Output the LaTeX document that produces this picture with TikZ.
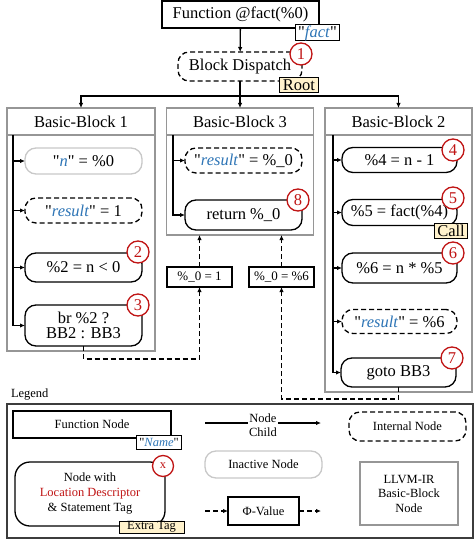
\documentclass[tikz,border=0pt]{standalone}
\usepackage{fontspec}
\setmainfont{Liberation Serif}[Ligatures=TeXOff]
\usetikzlibrary{arrows.meta}
\definecolor{tagfill}{RGB}{255,242,204}
\definecolor{namecol}{RGB}{46,117,182}
\definecolor{circred}{RGB}{192,20,20}
\definecolor{bbgray}{RGB}{150,150,150}
\definecolor{inactgray}{RGB}{200,200,200}
\definecolor{leggray}{RGB}{60,60,60}
\newcommand{\nm}[1]{"\textcolor{namecol}{\textit{#1}}"}
\begin{document}
\begin{tikzpicture}[x=1pt,y=-1pt,
  every node/.style={font=\fontsize{16.5}{16}\selectfont, inner sep=0pt, outer sep=0pt},
  mainfont/.style={font=\fontsize{16.5}{16}\selectfont},
  legfont/.style={font=\fontsize{12.5}{15}\selectfont},
  phifont/.style={font=\fontsize{13}{15}\selectfont},
  fnbox/.style={draw, line width=1.3pt, fill=white},
  stmt/.style={draw, line width=1.3pt, rounded corners=11pt, fill=white, minimum width=117pt, align=center},
  internal/.style={stmt, dashed, dash pattern=on 5pt off 3pt},
  inactive/.style={stmt, draw=inactgray},
  bbbox/.style={draw=bbgray, line width=1.2pt},
  bbline/.style={draw=bbgray, line width=1.2pt},
  circ/.style={circle, draw=circred, line width=1.3pt, fill=white, text=circred, minimum size=22pt},
  tagw/.style={draw, line width=1pt, fill=white, inner xsep=3pt, minimum height=16pt},
  tagy/.style={draw, line width=1pt, fill=tagfill, inner xsep=3pt, minimum height=15pt},
  phibox/.style={draw, line width=1.3pt, fill=white, phifont, minimum width=65pt, minimum height=20pt},
  ln/.style={line width=1.3pt},
  arr/.style={line width=1.3pt, -{Latex[length=5pt,width=4.5pt]}},
  darr/.style={line width=1.3pt, dash pattern=on 5pt off 3pt, -{Latex[length=5pt,width=4.5pt]}},
]
\useasboundingbox (0,0) rectangle (474,540);

% top
\node[fnbox, minimum width=157pt, minimum height=27pt] (fn) at (240.5,14.5) {Function @fact(\%0)};
\node[tagw] (facttag) at (317.5,33) {\nm{fact}};
\node[internal, minimum width=124pt, minimum height=29pt] (bd) at (240,66.5) {Block Dispatch};
\node[circ] (c1) at (301,54) {1};
\node[tagy] (root) at (299,85.5) {Root};

% basic blocks
\node[bbbox, minimum width=148pt, minimum height=243pt] (bb1) at (81,229.5) {};
\node[bbbox, minimum width=147pt, minimum height=127pt] (bb3) at (240,171.5) {};
\node[bbbox, minimum width=147pt, minimum height=284pt] (bb2) at (398.5,250) {};
\draw[bbline] (bb1.north west |- 0,135) -- (bb1.north east |- 0,135);
\draw[bbline] (bb3.north west |- 0,135) -- (bb3.north east |- 0,135);
\draw[bbline] (bb2.north west |- 0,135) -- (bb2.north east |- 0,135);
\node (t1) at (81,122) {Basic-Block 1};
\node (t3) at (240,122) {Basic-Block 3};
\node (t2) at (398.5,122) {Basic-Block 2};

\coordinate (split) at (240,96);
\draw[arr] (fn) -- (bd);
\draw[ln] (bd.south) -- (split);
\draw[arr] (split) -- (bb3.north);
\draw[arr] (split) -| (bb1.north);
\draw[arr] (split) -| (bb2.north);

% BB1
\node[inactive, minimum height=26pt] (a1) at (83.5,161) {\nm{n} = \%0};
\node[internal, minimum height=25pt] (a2) at (83.5,210.5) {\nm{result} = 1};
\node[stmt, minimum height=29pt] (a3) at (83.5,267.5) {\%2 = n < 0};
\node[stmt, minimum height=41pt] (a4) at (83.5,325.5) {br \%2 ?\\[-0.5pt]BB2 : BB3};
\node[circ] (c2) at (138,252) {2};
\node[circ] (c3) at (138,305) {3};
\coordinate (v1) at (13,135);
\draw[arr] (v1) |- (a4.west);
\draw[arr] (v1 |- a1.west) -- (a1.west);
\draw[arr] (v1 |- a2.west) -- (a2.west);
\draw[arr] (v1 |- a3.west) -- (a3.west);

% BB3
\node[internal, minimum height=25pt] (b1) at (243.5,160.5) {\nm{result} = \%\_0};
\node[stmt, minimum height=30pt] (b2) at (243.5,215) {return \%\_0};
\node[circ] (c8) at (298,200) {8};
\coordinate (v3) at (173,135);
\draw[arr] (v3) |- (b2.west);
\draw[arr] (v3 |- b1.west) -- (b1.west);

% BB2
\node[stmt, minimum width=115pt, minimum height=25pt] (d1) at (399.5,160) {\%4 = n - 1};
\node[stmt, minimum width=115pt, minimum height=26pt] (d2) at (399.5,212.5) {\%5 = fact(\%4)};
\node[stmt, minimum width=115pt, minimum height=30pt] (d3) at (399.5,268) {\%6 = n * \%5};
\node[internal, minimum width=115pt, minimum height=24pt] (d4) at (399.5,321.5) {\nm{result} = \%6};
\node[stmt, minimum width=115pt, minimum height=29pt] (d5) at (398.5,372.5) {goto BB3};
\node[circ] (c4) at (453,150) {4};
\node[circ] (c5) at (453,198) {5};
\node[tagy] (call) at (451,230.5) {Call};
\node[circ] (c6) at (453,253) {6};
\node[circ] (c7) at (452,358) {7};
\coordinate (v2) at (333,135);
\draw[arr] (v2) |- (d5.west);
\draw[arr] (v2 |- d1.west) -- (d1.west);
\draw[arr] (v2 |- d2.west) -- (d2.west);
\draw[arr] (v2 |- d3.west) -- (d3.west);
\draw[arr] (v2 |- d4.west) -- (d4.west);

% phi values
\node[phibox] (p1) at (199.5,277) {\%\_0 = 1};
\node[phibox] (p2) at (281.5,277) {\%\_0 = \%6};
\draw[darr] (p1.north) -- (p1.north |- bb3.south);
\draw[darr] (p2.north) -- (p2.north |- bb3.south);
\draw[darr] (a4.south) -- ++(0,13) -| (p1.south);
\draw[darr] (d5.south) -- ++(0,12) -| (p2.south);

% legend
\node[legfont, anchor=west] (legt) at (11,395) {Legend};
\node[draw=leggray, line width=1.6pt, minimum width=466pt, minimum height=134pt] (leg) at (240,471) {};
\node[fnbox, legfont, minimum width=158pt, minimum height=27pt] (lfn) at (92,424.5) {Function Node};
\node[tagw, legfont, minimum height=14pt] (lname) at (159,442) {\nm{Name}};
\node[stmt, legfont, rounded corners=15pt, minimum width=150pt, minimum height=64pt] (lnode) at (90,494) {Node with\\\textcolor{circred}{Location Descriptor}\\\& Statement Tag};
\node[circ, legfont, minimum size=21pt] (lx) at (163,466) {x};
\node[tagy, legfont, minimum width=65pt, minimum height=12pt] (lextra) at (151.5,527) {Extra Tag};
\coordinate (ncA) at (205,423);
\coordinate (ncB) at (321,423);
\draw[arr] (ncA) -- (ncB);
\node[legfont, fill=white, align=center, inner xsep=1pt] (nclab) at (263,425) {Node\\[-1pt]Child};
\node[internal, legfont, minimum width=117pt, minimum height=29pt] (lint) at (407.5,426.5) {Internal Node};
\node[inactive, legfont, minimum width=117pt, minimum height=27pt] (linact) at (263.5,464.5) {Inactive Node};
\node[phibox, legfont, minimum width=71pt, minimum height=28pt] (lphi) at (263.5,511) {Φ-Value};
\coordinate (phiIn) at (205,511);
\coordinate (phiOut) at (321,511);
\draw[darr] (phiIn) -- (lphi.west);
\draw[darr] (lphi.east) -- (phiOut);
\node[draw=bbgray, line width=1.2pt, legfont, align=center, minimum width=98pt, minimum height=63pt] (lbb) at (409,493.5) {LLVM-IR\\[-0.5pt]Basic-Block\\[-0.5pt]Node};
\end{tikzpicture}
\end{document}
